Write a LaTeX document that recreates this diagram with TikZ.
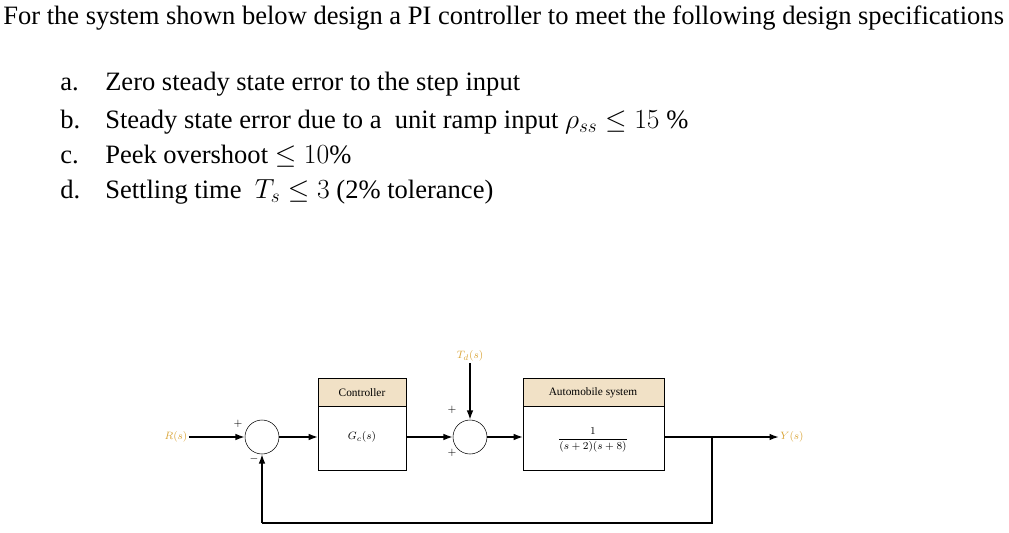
\documentclass[tikz,border=0pt]{standalone}
\usepackage{fontspec}
\setmainfont{Liberation Serif}
\usetikzlibrary{arrows.meta}
\definecolor{hdr}{HTML}{F1E1C6}
\definecolor{lbl}{HTML}{D9A437}
\begin{document}
\begin{tikzpicture}[x=0.75pt,y=-0.75pt,
  txt/.style={anchor=base west,inner sep=0pt,font=\fontsize{19.9}{24}\selectfont},
  sm/.style={font=\fontsize{8.5}{10}\selectfont,inner sep=1pt},
  sumc/.style={circle,draw,minimum size=25.5pt,inner sep=0pt},
  blk/.style={draw,fill=white},
  arr/.style={-{Latex[length=7pt,width=5pt]},line width=1.1pt},
  ln/.style={line width=1.1pt}]
\useasboundingbox (0,0) rectangle (1009,532);
\node[txt] (t0) at (3,24) {For the system shown below design a PI controller to meet the following design specifications};
\node[txt] (la) at (60,90) {a.};\node[txt] (ta) at (105,90) {Zero steady state error to the step input};
\node[txt] (lb) at (60,128) {b.};\node[txt] (tb) at (105,128) {Steady state error due to a\ \ unit ramp input $\rho_{ss}\leq 15\ \%$};
\node[txt] (lc) at (60,163) {c.};\node[txt] (tc) at (105,163) {Peek overshoot $\leq 10\%$};
\node[txt] (ld) at (60,198) {d.};\node[txt] (td) at (105,198) {Settling time\ \ $T_s\leq 3$ (2\% tolerance)};
% diagram
\node[sumc] (s1) at (262,437) {};
\node[sumc] (s2) at (470,437) {};
\draw[blk] (318,406) rectangle (406,470);
\draw[blk,fill=hdr] (318,378) rectangle (406,406);
\node[sm] (ctl) at (362,393) {Controller};
\node[sm] (gc) at (362,437) {$G_c(s)$};
\coordinate (cin) at (318,437); \coordinate (cout) at (406,437);
\draw[blk] (523,406) rectangle (664,470);
\draw[blk,fill=hdr] (523,378) rectangle (664,406);
\node[sm] (asy) at (593,393) {Automobile system};
\node[sm] (tf) at (593,440) {$\displaystyle\frac{1}{(s+2)(s+8)}$};
\coordinate (ain) at (523,437); \coordinate (aout) at (664,437);
\node[sm,text=lbl] (R) at (176,437) {$R(s)$};
\node[sm,text=lbl] (Y) at (792,437) {$Y(s)$};
\node[sm,text=lbl] (T) at (470,356) {$T_d(s)$};
\coordinate (br) at (712,437);
\coordinate (bb) at (712,523);
\coordinate (lb2) at (262,523);
\draw[arr] (R) -- (s1);
\draw[arr] (s1) -- (cin);
\draw[arr] (cout) -- (s2);
\draw[arr] (s2) -- (ain);
\draw[arr] (T) -- (s2);
\draw[arr] (aout) -- (Y.west);
\draw[ln] (br) -- (bb) -- (lb2);
\draw[arr] (lb2) -- (s1);
\node[sm] (p1) at (238,424) {$+$};
\node[sm] (m1) at (254,459) {$-$};
\node[sm] (p2) at (452,410) {$+$};
\node[sm] (p3) at (452,453) {$+$};
\end{tikzpicture}
\end{document}
